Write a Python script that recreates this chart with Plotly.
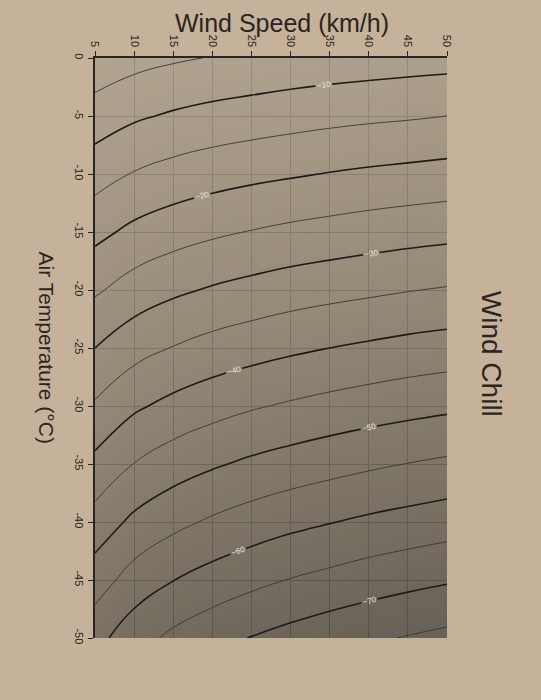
import plotly.graph_objects as go

# Wind speed (km/h) columns and air temperature (°C) rows
wind_speed = [5, 10, 15, 20, 25, 30, 35, 40, 45, 50]
air_temp = [0, -5, -10, -15, -20, -25, -30, -35, -40, -45, -50]

# Wind chill values, one list per air temperature row
wc_t0 = [-1.6, -3.3, -4.4, -5.2, -5.9, -6.5, -7.0, -7.4, -7.8, -8.1]
wc_t5 = [-7.3, -9.3, -10.6, -11.6, -12.3, -13.0, -13.6, -14.1, -14.5, -15.0]
wc_t10 = [-12.9, -15.3, -16.8, -17.9, -18.8, -19.5, -20.2, -20.8, -21.3, -21.8]
wc_t15 = [-18.6, -21.2, -22.9, -24.2, -25.2, -26.1, -26.8, -27.5, -28.1, -28.6]
wc_t20 = [-24.3, -27.2, -29.1, -30.5, -31.6, -32.6, -33.4, -34.1, -34.8, -35.4]
wc_t25 = [-30.0, -33.2, -35.2, -36.8, -38.0, -39.1, -40.0, -40.8, -41.6, -42.2]
wc_t30 = [-35.6, -39.2, -41.4, -43.1, -44.5, -45.6, -46.6, -47.5, -48.3, -49.0]
wc_t35 = [-41.3, -45.1, -47.6, -49.4, -50.9, -52.1, -53.2, -54.2, -55.1, -55.9]
wc_t40 = [-47.0, -51.1, -53.7, -55.7, -57.3, -58.7, -59.8, -60.9, -61.8, -62.7]
wc_t45 = [-52.6, -57.1, -59.9, -62.0, -63.7, -65.2, -66.4, -67.6, -68.6, -69.5]
wc_t50 = [-58.3, -63.0, -66.1, -68.3, -70.2, -71.7, -73.1, -74.2, -75.3, -76.3]

wind_chill = [wc_t0, wc_t5, wc_t10, wc_t15, wc_t20, wc_t25,
              wc_t30, wc_t35, wc_t40, wc_t45, wc_t50]

speed_ticks = [5, 10, 15, 20, 25, 30, 35, 40, 45, 50]
temp_ticks = [0, -5, -10, -15, -20, -25, -30, -35, -40, -45, -50]

FONT = "Liberation Sans, Arial, sans-serif"
INK = "#2a2520"

fig = go.Figure()

# shaded background
fig.add_trace(go.Heatmap(
    x=wind_speed, y=air_temp, z=wind_chill,
    zsmooth="best", opacity=0.75, showscale=False, hoverinfo="skip",
    colorscale=[[0.0, "#5c564e"], [0.55, "#998d7b"], [1.0, "#bfb19b"]],
))

# minor contours (every odd 5)
fig.add_trace(go.Contour(
    x=wind_speed, y=air_temp, z=wind_chill,
    contours=dict(coloring="none", start=-75, end=-5, size=10),
    line=dict(color="#3a352e", width=0.9, smoothing=1.3),
    showscale=False, hoverinfo="skip",
))

# major contours (every 10) with labels
fig.add_trace(go.Contour(
    x=wind_speed, y=air_temp, z=wind_chill,
    contours=dict(coloring="none", start=-70, end=-10, size=10,
                  showlabels=True,
                  labelfont=dict(size=8, color="#ece4d6", family=FONT)),
    line=dict(color="#1e1a16", width=1.6, smoothing=1.3),
    showscale=False, hoverinfo="skip",
))

fig.update_layout(
    width=541, height=700,
    margin=dict(l=95, r=94, t=58, b=62),
    paper_bgcolor="#c6b19a",
    plot_bgcolor="#8a8070",
    font=dict(family=FONT, color=INK),
    showlegend=False,
    xaxis=dict(
        side="top", range=[5, 50], tickvals=speed_ticks,
        ticktext=[str(v) for v in speed_ticks], tickangle=90,
        tickfont=dict(size=11, color=INK),
        ticks="outside", ticklen=5, tickwidth=1.2, tickcolor=INK,
        showline=True, linewidth=2.2, linecolor=INK, mirror=False,
        showgrid=True, gridcolor="#302c26", gridwidth=1,
        zeroline=False,
    ),
    yaxis=dict(
        range=[-50, 0], tickvals=temp_ticks,
        ticktext=[str(v) for v in temp_ticks], tickangle=90,
        tickfont=dict(size=11, color=INK),
        ticks="outside", ticklen=5, tickwidth=1.2, tickcolor=INK,
        showline=True, linewidth=2.2, linecolor=INK, mirror=False,
        showgrid=True, gridcolor="#302c26", gridwidth=1,
        zeroline=False,
    ),
    annotations=[
        dict(text="Wind Speed (km/h)", showarrow=False,
             xref="paper", yref="paper", x=0.531, y=1.061,
             xanchor="center", yanchor="middle",
             font=dict(size=25, color=INK, family=FONT)),
        dict(text="Air Temperature (°C)", textangle=90, showarrow=False,
             xref="paper", yref="paper", x=-0.135, y=0.5,
             xanchor="center", yanchor="middle",
             font=dict(size=21, color=INK, family=FONT)),
        dict(text="Wind Chill", textangle=90, showarrow=False,
             xref="paper", yref="paper", x=1.125, y=0.49,
             xanchor="center", yanchor="middle",
             font=dict(size=28, color=INK, family=FONT)),
    ],
)

fig.write_html(
    "out.html",
    config={"displayModeBar": False},
    post_script="document.body.style.margin='0';document.body.style.overflow='hidden';",
)
